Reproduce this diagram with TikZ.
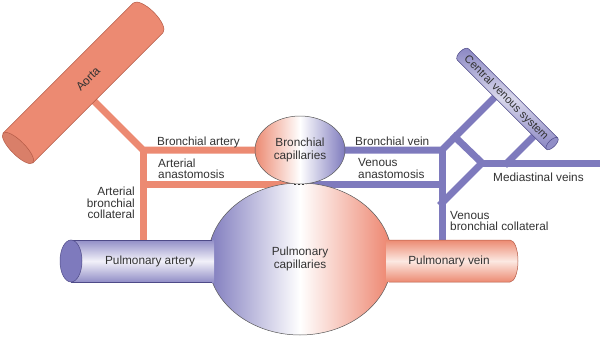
\documentclass[tikz,border=0pt]{standalone}
\usepackage{fontspec}
\setmainfont{Liberation Sans}
\usetikzlibrary{shapes.geometric}
\pgfdeclarelayer{background}
\pgfsetlayers{background,main}
\definecolor{art}{HTML}{EC8A72}
\definecolor{artd}{HTML}{B45A46}
\definecolor{artl}{HTML}{FCE9E2}
\definecolor{ven}{HTML}{7E7ABD}
\definecolor{vend}{HTML}{4E4A88}
\definecolor{venl}{HTML}{F2F1F9}
\definecolor{txt}{HTML}{333333}
\begin{document}
\begin{tikzpicture}[x=1pt,y=-1pt,
  lbl/.style={text=txt, font=\fontsize{11.8}{11.6}\selectfont, inner sep=0pt},
  avessel/.style={draw=art, line width=7pt, line join=miter},
  vvessel/.style={draw=ven, line width=7pt, line join=miter},
  outl/.style={line width=0.5pt}]
\useasboundingbox (0,0) rectangle (600,345);

% ---- junction coordinates
\coordinate (ra0) at (80,87);
\coordinate (jr1) at (143,150);
\coordinate (jr2) at (143,184);
\coordinate (rbot) at (143,245);
\coordinate (anaL) at (294,184);
\coordinate (anaR) at (306,184);
\coordinate (jv1) at (442,150);
\coordinate (jv2) at (442,184);
\coordinate (vbot) at (442,245);
\coordinate (d1e) at (500,92);
\coordinate (d2s) at (455,137);
\coordinate (jm) at (482,163);
\coordinate (d3e) at (442,203);
\coordinate (mright) at (610,163);
\coordinate (d4s) at (507,163);
\coordinate (d4e) at (539,131);

% ---- aorta
\begin{scope}[shift={(18,148)}, rotate=45]
  \filldraw[fill=art, draw=artd, outl] (0,-21) -- (184,-21)
    arc[start angle=90, end angle=-90, x radius=8pt, y radius=21pt]
    -- (0,21) -- cycle;
  \filldraw[fill=art!92!black, draw=artd, outl] (0,0) ellipse[x radius=7pt, y radius=21pt];
\end{scope}
\node[lbl, rotate=45] (aorta) at (88,79) {Aorta};

% ---- central venous system
\begin{scope}[shift={(463,54.5)}, rotate=-45]
  \shade[top color=ven!90, bottom color=ven!90, middle color=ven!30!white]
    (126,-8) -- (0,-8)
    arc[start angle=90, end angle=270, x radius=4pt, y radius=8pt]
    -- (126,8) -- cycle;
  \draw[vend, outl] (126,-8) -- (0,-8)
    arc[start angle=90, end angle=270, x radius=4pt, y radius=8pt]
    -- (126,8);
  \filldraw[fill=ven!85, draw=vend, outl] (126,0) ellipse[x radius=3.5pt, y radius=8pt];
\end{scope}
\node[lbl, rotate=-45, font=\fontsize{11.2}{11}\selectfont] (cvs) at (506,98) {Central venous system};

% ---- pulmonary capillaries
\node[ellipse, minimum width=184pt, minimum height=152pt, inner sep=0pt,
  draw=black!65, outl, left color=ven, right color=art!95!red, middle color=white,
  lbl, align=center, font=\fontsize{11.8}{12.8}\selectfont] (pc) at (300,259) {Pulmonary\\capillaries};

% ---- pulmonary artery
\shade[top color=ven!85, bottom color=ven!85, middle color=venl] (71,240) rectangle (214,282);
\draw[vend, outl] (71,240) -- (212,240) (71,282) -- (212,282);
\filldraw[fill=ven, draw=vend, outl] (71,261) ellipse[x radius=11pt, y radius=21pt];
\node[lbl] (pa) at (150,261) {Pulmonary artery};

% ---- pulmonary vein
\shade[top color=art, bottom color=art, middle color=artl]
  (386,240) -- (510,240) arc[start angle=90, end angle=-90, x radius=8pt, y radius=21pt]
  -- (386,282) -- cycle;
\draw[artd, outl] (389,240) -- (510,240) arc[start angle=90, end angle=-90, x radius=8pt, y radius=21pt]
  -- (389,282);
\node[lbl] (pv) at (449,261) {Pulmonary vein};

% ---- bronchial capillaries
\node[ellipse, minimum width=90pt, minimum height=68pt, inner sep=0pt,
  draw=black!65, outl, left color=art, right color=ven, middle color=white,
  lbl, align=center, font=\fontsize{11.8}{13.5}\selectfont] (bc) at (300,150) {Bronchial\\capillaries};

% ---- background and connecting vessels (behind)
\begin{pgfonlayer}{background}
  \fill[white] (0,0) rectangle (600,345);
  \draw[avessel] (ra0) -- (jr1) -- (jr1 -| bc.center);
  \draw[avessel, line cap=rect] (jr1) -- (rbot);
  \draw[avessel] (jr2) -- (anaL);
  \draw[vvessel] (jv1 -| bc.center) -- (jv1) -- (d1e);
  \draw[vvessel, line cap=rect] (jv1) -- (vbot);
  \draw[vvessel] (anaR) -- (jv2);
  \draw[vvessel, line cap=rect] (d2s) -- (jm) -- (d3e);
  \draw[vvessel] (jm) -- (mright);
  \draw[vvessel, line cap=rect] (d4s) -- (d4e);
\end{pgfonlayer}
\draw[black!80, line width=0.8pt, dash pattern=on 2pt off 2pt] (anaL) -- (anaR);

% ---- labels
\node[lbl, anchor=base west] (lba) at (157,145) {Bronchial artery};
\node[lbl, anchor=north west, align=left] (laa) at (158,158.5) {Arterial\\anastomosis};
\node[lbl, anchor=north east, align=right] (labc) at (135,187) {Arterial\\bronchial\\collateral};
\node[lbl, anchor=base west] (lbv) at (355,145) {Bronchial vein};
\node[lbl, anchor=north west, align=left] (lva) at (358,158.5) {Venous\\anastomosis};
\node[lbl, anchor=base west] (lmv) at (493,181) {Mediastinal veins};
\node[lbl, anchor=north west, align=left] (lvbc) at (450,211) {Venous\\bronchial collateral};
\end{tikzpicture}
\end{document}
